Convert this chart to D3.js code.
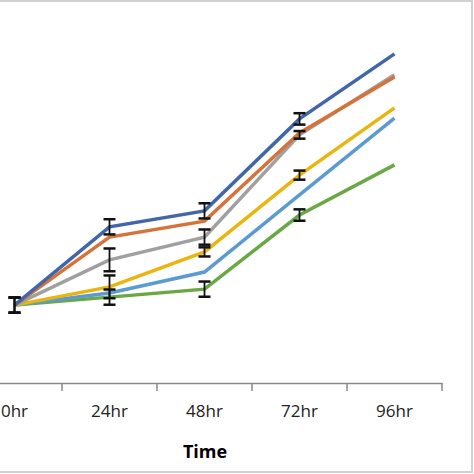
<!DOCTYPE html>
<html><head><meta charset="utf-8">
<script src="https://cdn.jsdelivr.net/npm/d3@7"></script>
<style>body{margin:0;background:#fff}</style>
</head><body>
<script>
var categories = ["0hr", "24hr", "48hr", "72hr", "96hr"];
var colors = ["#4167a8", "#d6733a", "#a0a0a0", "#e8b60f", "#5b9bd0", "#6aa844"];
var s1 = [2.05, 4.11, 4.53, 6.95, 8.66];
var s2 = [2.05, 3.84, 4.26, 6.58, 8.05];
var s3 = [2.05, 3.24, 3.84, 6.53, 8.11];
var s4 = [2.05, 2.53, 3.45, 5.47, 7.24];
var s5 = [2.05, 2.37, 2.92, 4.95, 6.97];
var s6 = [2.05, 2.26, 2.47, 4.42, 5.74];
var e1 = [0.2, 0.2, 0.2, 0.15, 0];
var e3 = [0.2, 0.3, 0.2, 0.1, 0];
var e4 = [0, 0.3, 0.12, 0.12, 0];
var e6 = [0.2, 0.2, 0.2, 0.15, 0];
var series = [[s1, e1], [s2, null], [s3, e3], [s4, e4], [s5, null], [s6, e6]];

var w = 474, h = 474;
var svg = d3.select("body").append("svg").attr("width", w).attr("height", h);

// border of the cropped chart area
svg.append("rect").attr("x", -2).attr("y", 1).attr("width", 474).attr("height", 471)
   .attr("fill", "none").attr("stroke", "#d0d0d0").attr("stroke-width", 2);

var x = d3.scaleBand().domain(categories).range([-33, 442]);
var y = d3.scaleLinear().domain([0, 10]).range([383, 3]);

var axis = svg.append("g").attr("transform", "translate(0,383)")
   .call(d3.axisBottom(x).tickSize(0).tickPadding(22));
axis.select(".domain").attr("stroke", "#888").attr("stroke-width", 1.5);
axis.selectAll("text").attr("font-family", "Open Sans, sans-serif").attr("font-size", 17).attr("fill", "#222");
// boundary ticks
svg.selectAll(".bt").data(categories).enter().append("line")
   .attr("x1", function(d) { return x(d) + x.bandwidth(); })
   .attr("x2", function(d) { return x(d) + x.bandwidth(); })
   .attr("y1", 383).attr("y2", 391).attr("stroke", "#888").attr("stroke-width", 1.5);

svg.append("text").attr("x", 205).attr("y", 458).attr("text-anchor", "middle")
   .attr("font-family", "Open Sans, sans-serif").attr("font-weight", "bold").attr("font-size", 18)
   .text("Time");

var cx = function(i) { return x(categories[i]) + x.bandwidth() / 2; };
var line = d3.line().x(function(d, i) { return cx(i); }).y(function(d) { return y(d); });

series.slice().reverse().forEach(function(s, k) {
  var idx = series.length - 1 - k;
  svg.append("path").datum(s[0]).attr("d", line).attr("fill", "none")
     .attr("stroke", colors[idx]).attr("stroke-width", 3.5);
});

series.forEach(function(s) {
  if (!s[1]) return;
  s[0].forEach(function(v, i) {
    var e = s[1][i];
    if (!e) return;
    var g = svg.append("g").attr("stroke", "#111").attr("stroke-width", 1.8);
    g.append("line").attr("x1", cx(i)).attr("x2", cx(i)).attr("y1", y(v - e)).attr("y2", y(v + e));
    [v - e, v + e].forEach(function(t) {
      g.append("line").attr("x1", cx(i) - 6).attr("x2", cx(i) + 6).attr("y1", y(t)).attr("y2", y(t)).attr("stroke-width", 2.5);
    });
  });
});
</script>
</body></html>
